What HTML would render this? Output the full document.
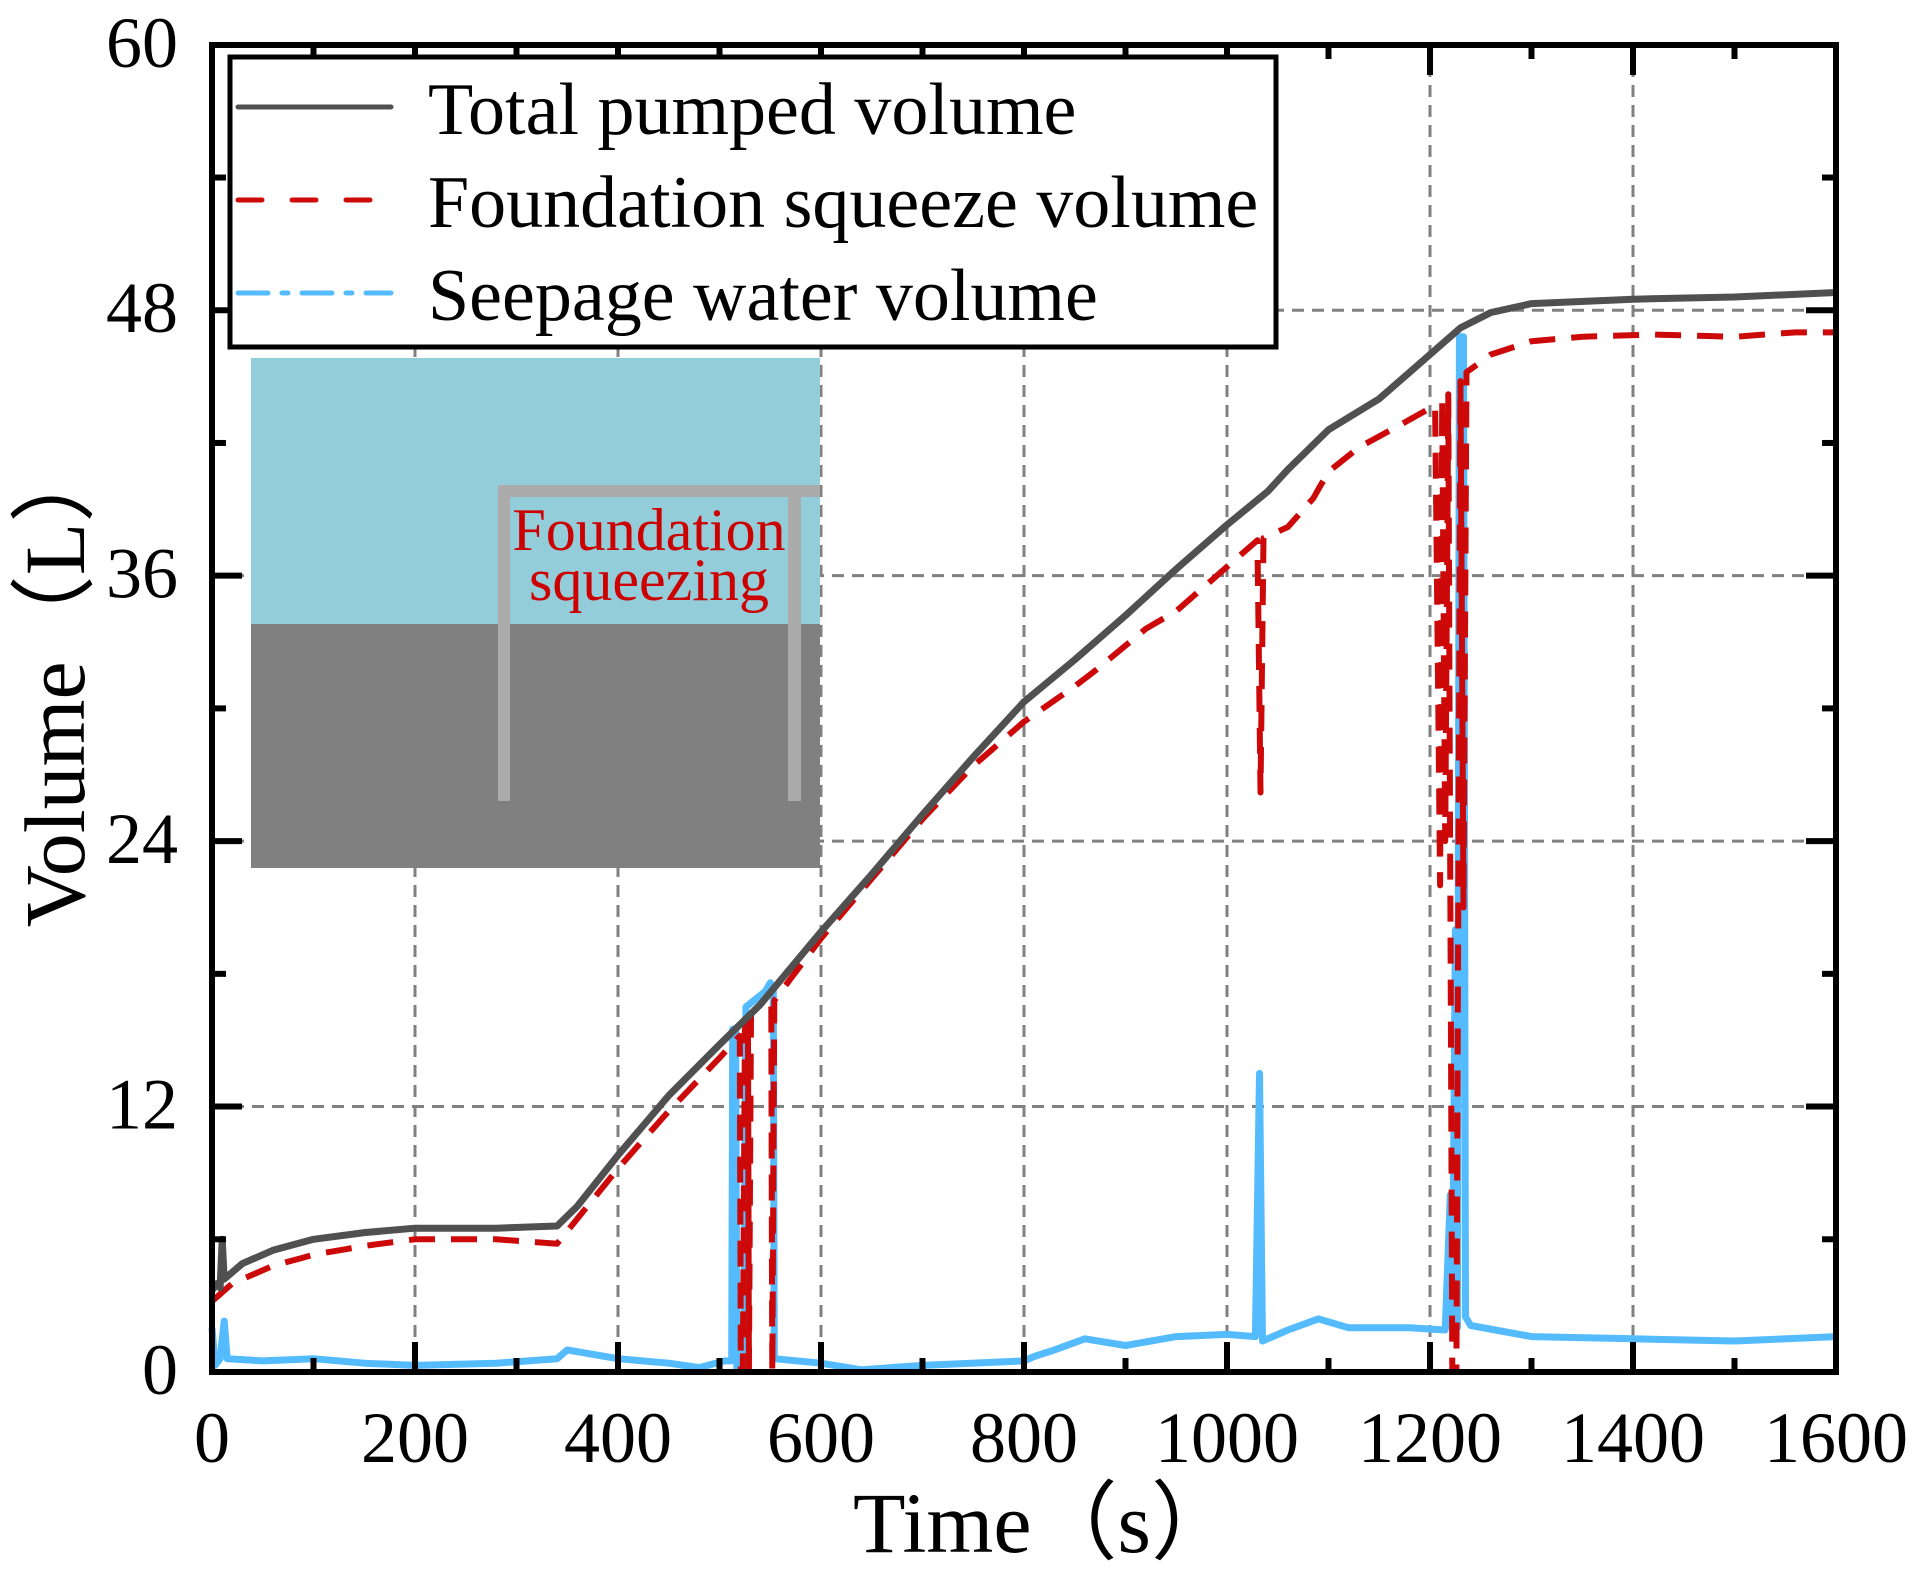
<!DOCTYPE html>
<html><head><meta charset="utf-8"><style>
html,body{margin:0;padding:0;background:#fff;}
svg{display:block;}
text{font-family:"Liberation Serif",serif;fill:#000;}
</style></head><body>
<svg id="s" width="1923" height="1574" viewBox="0 0 1923 1574" xmlns="http://www.w3.org/2000/svg">
<rect width="1923" height="1574" fill="#fff"/>
<g id="grid" stroke="#808080" stroke-width="3" stroke-dasharray="12,8" fill="none"></g>
<rect x="251" y="358" width="569" height="266" fill="#93CDD9"/>
<rect x="251" y="624" width="569" height="244" fill="#808080"/>
<g fill="#ABABAB">
<rect x="498" y="485" width="12" height="316"/>
<rect x="498" y="485" width="322" height="12"/>
<rect x="788" y="497" width="13" height="304"/>
</g>
<text x="649" y="550" font-size="60" text-anchor="middle" style="fill:#CC0000">Foundation</text>
<text x="649" y="600" font-size="60" text-anchor="middle" style="fill:#CC0000">squeezing</text>
<g id="data" fill="none" stroke-linejoin="round"></g>
<rect x="212" y="45" width="1624" height="1327" fill="none" stroke="#000" stroke-width="6"/>
<g id="ticks" stroke="#000" stroke-width="6"></g>
<g id="labels" font-size="72"></g>
<rect x="230" y="57" width="1046" height="290" fill="#fff" stroke="#000" stroke-width="5"/>
<line x1="238" y1="107" x2="391" y2="107" stroke="#505050" stroke-width="5" stroke-linecap="round"/>
<line x1="238" y1="200" x2="391" y2="200" stroke="#CC0808" stroke-width="5" stroke-linecap="round" stroke-dasharray="24,30"/>
<line x1="238" y1="293" x2="391" y2="293" stroke="#55BBFF" stroke-width="5" stroke-linecap="round" stroke-dasharray="30,14,6,14"/>
<text x="428" y="134" font-size="74">Total pumped volume</text>
<text x="428" y="227" font-size="74">Foundation squeeze volume</text>
<text x="428" y="320" font-size="74">Seepage water volume</text>
<text x="1045" y="1552" font-size="86" text-anchor="middle">Time（s）</text>
<text transform="translate(84,682) rotate(-90)" font-size="86" text-anchor="middle">Volume（L）</text>
</svg>
<script>
var X=function(t){return 212+t*1.015;},Y=function(v){return 1372-v*22.12;};
var ns="http://www.w3.org/2000/svg";
function el(p,tag,a){var e=document.createElementNS(ns,tag);for(var k in a)e.setAttribute(k,a[k]);document.getElementById(p).appendChild(e);return e;}
for(var t=200;t<1600;t+=200)el("grid","line",{x1:X(t),y1:45,x2:X(t),y2:1372});
for(var v=12;v<60;v+=12)el("grid","line",{x1:212,y1:Y(v),x2:1836,y2:Y(v)});
for(var t=100;t<1600;t+=100){var L=(t%200==0)?30:14;
el("ticks","line",{x1:X(t),y1:1372,x2:X(t),y2:1372-L});el("ticks","line",{x1:X(t),y1:45,x2:X(t),y2:45+L});}
for(var v=6;v<60;v+=6){var L=(v%12==0)?30:14;
el("ticks","line",{x1:212,y1:Y(v),x2:212+L,y2:Y(v)});el("ticks","line",{x1:1836,y1:Y(v),x2:1836-L,y2:Y(v)});}
for(var t=0;t<=1600;t+=200){var e=el("labels","text",{x:X(t),y:1462,"text-anchor":"middle"});e.textContent=t;}
for(var v=0;v<=60;v+=12){var e=el("labels","text",{x:178,y:Y(v)+22,"text-anchor":"end"});e.textContent=v;}
function path(pts,a){var d="";for(var i=0;i<pts.length;i++)d+=(i?"L":"M")+X(pts[i][0]).toFixed(1)+","+Y(pts[i][1]).toFixed(1);a.d=d;el("data","path",a);}
function interp(k,n){var o=[];for(var i=0;i<k.length-1;i++){for(var j=0;j<n;j++){var f=j/n;o.push([k[i][0]+(k[i+1][0]-k[i][0])*f,k[i][1]+(k[i+1][1]-k[i][1])*f]);}}o.push(k[k.length-1]);return o;}
var b=[[0,2],[3,0.3],[8,0.6],[12,2.3],[15,0.6],[50,0.5],[100,0.6],[150,0.4],[200,0.3],[280,0.4],[340,0.6],[350,1.0],[400,0.6],[450,0.4],[480,0.2],[505,0.5],[512,0.5],[513,15.5],[516,15.5],[517,0.2],[524,0.2],[526,16.5],[545,17.2],[550,17.6],[553,17.3],[554,0.6],[600,0.4],[640,0.1],[700,0.3],[800,0.5],[810,0.7],[830,1.0],[860,1.5],[900,1.2],[950,1.6],[1000,1.7],[1028,1.6],[1032,13.5],[1035,1.4],[1045,1.6],[1060,1.9],[1090,2.4],[1120,2.0],[1180,2.0],[1215,1.9],[1220,8],[1222,2],[1225,20],[1227,2],[1229,46.8],[1233,46.8],[1235,2.5],[1240,2.1],[1300,1.6],[1400,1.5],[1500,1.4],[1600,1.6]];
path(b,{stroke:"#55BBFF","stroke-width":7});
var r=[[0,3.2],[20,4.0],[60,4.8],[100,5.3],[150,5.7],[200,6.0],[280,6.0],[340,5.8],[400,9.2],[450,11.8],[500,14.2],[520,15.2],[521,0],[523,0],[525,15.5],[528,16],[529,0],[531,16.2],[551,16.4],[552,0],[554,16.8],[600,19.6],[650,22.3],[700,25.0],[750,27.4],[800,29.4],[850,31.0],[870,31.7],[920,33.6],[950,34.4],[1000,36.4],[1030,37.6],[1033,26.2],[1036,37.7],[1060,38.2],[1085,39.5],[1100,40.7],[1130,41.8],[1170,42.8],[1205,43.7],[1210,22],[1212,44],[1215,24],[1218,44.2],[1222,0],[1226,0],[1230,44.8],[1233,21],[1236,45.2],[1260,46.0],[1300,46.6],[1350,46.8],[1420,46.9],[1500,46.8],[1560,47.0],[1600,47.0]];
path(interp(r,3),{stroke:"#CC0808","stroke-width":6,"stroke-dasharray":"26,16"});
var g=[[0,3.7],[5,4.0],[8,3.8],[10,6.0],[12,4.2],[30,4.9],[60,5.5],[100,6.0],[150,6.3],[200,6.5],[280,6.5],[340,6.6],[360,7.5],[400,9.8],[450,12.5],[500,14.8],[540,16.6],[600,19.9],[650,22.5],[700,25.2],[750,27.8],[800,30.3],[850,32.2],[900,34.2],[950,36.3],[1000,38.3],[1040,39.8],[1060,40.8],[1100,42.6],[1150,44.0],[1200,46.0],[1230,47.2],[1260,47.9],[1300,48.3],[1400,48.5],[1500,48.6],[1600,48.8]];
path(g,{stroke:"#505050","stroke-width":7});
</script>
</body></html>
